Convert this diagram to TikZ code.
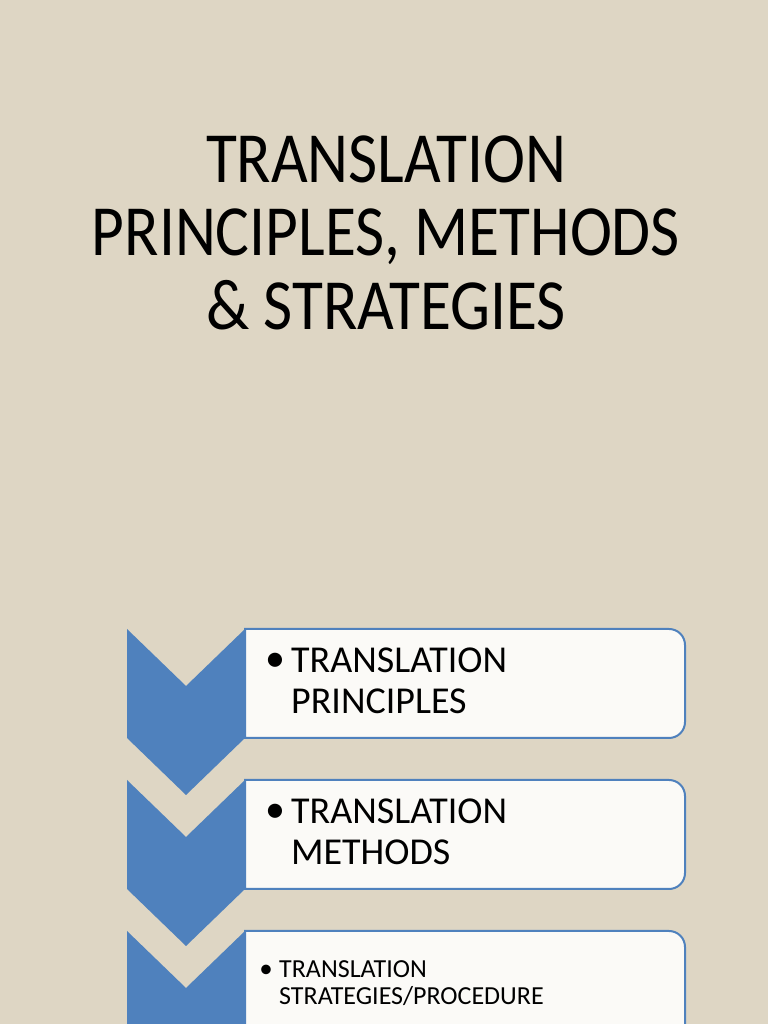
\documentclass[tikz,border=0pt]{standalone}
\usepackage{fontspec}
\setmainfont{Carlito}
\newfontfamily\titlefont[FakeStretch=0.88]{Carlito}
\definecolor{bg}{RGB}{222,214,196}
\definecolor{chev}{RGB}{79,129,189}
\definecolor{boxfill}{RGB}{251,250,247}
\begin{document}
\begin{tikzpicture}[x=1pt,y=1pt,
  chevron/.style={fill=chev},
  stepbox/.style={fill=boxfill,draw=chev,line width=2pt},
  titletext/.style={inner sep=0pt,anchor=base,font=\titlefont\fontsize{72}{86}\selectfont},
  bigtext/.style={inner sep=0pt,anchor=base west,font=\fontsize{38}{45}\selectfont},
  smalltext/.style={inner sep=0pt,anchor=base west,font=\fontsize{26}{30}\selectfont},
  bigbullet/.style={inner sep=0pt,anchor=center,font=\fontsize{40}{45}\selectfont},
  smallbullet/.style={inner sep=0pt,anchor=center,font=\fontsize{27}{30}\selectfont}]
\useasboundingbox (0,0) rectangle (768,1024);
\clip (0,0) rectangle (768,1024);
\fill[bg] (0,0) rectangle (768,1024);
% title
\node[titletext] (t1) at (386,841) {TRANSLATION};
\node[titletext] (t2) at (386,768) {PRINCIPLES, METHODS};
\node[titletext] (t3) at (386,694) {\&\ STRATEGIES};
% chevrons and boxes
\foreach \t in {395,244,93}{
  \path[chevron] (127,\t) -- (186,{\t-57}) -- (245,\t) -- (245,{\t-109})
     -- (186,{\t-166}) -- (127,{\t-109}) -- cycle;
  \path[stepbox] (245,\t) -- (669,\t) arc[start angle=90,end angle=0,radius=16]
     -- (685,{\t-93}) arc[start angle=0,end angle=-90,radius=16]
     -- (245,{\t-109}) -- cycle;
}
% box 1
\node[bigbullet] (b1) at (275,362) {•};
\node[bigtext] (l1a) at (291,351) {TRANSLATION};
\node[bigtext] (l1b) at (291,310) {PRINCIPLES};
% box 2
\node[bigbullet] (b2) at (275,211) {•};
\node[bigtext] (l2a) at (291,200) {TRANSLATION};
\node[bigtext] (l2b) at (291,159) {METHODS};
% box 3
\node[smallbullet] (b3) at (266,53) {•};
\node[smalltext] (l3a) at (279,46) {TRANSLATION};
\node[smalltext] (l3b) at (279,19) {STRATEGIES/PROCEDURE};
\end{tikzpicture}
\end{document}
